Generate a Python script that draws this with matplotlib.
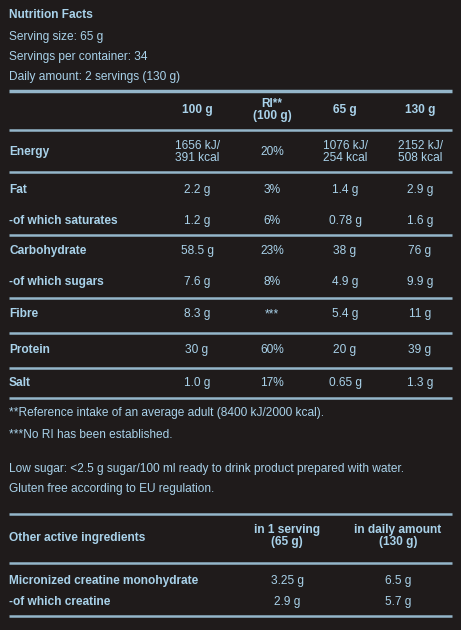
import matplotlib
matplotlib.use("Agg")
import matplotlib.pyplot as plt

BG = "#1f1b1b"
FG = "#a9d2ea"
plt.rcParams['font.family'] = ['Liberation Sans', 'DejaVu Sans']

intro = ["Serving size: 65 g", "Servings per container: 34", "Daily amount: 2 servings (130 g)"]
headers = ["100 g", "RI**\n(100 g)", "65 g", "130 g"]
nutrients = ["Energy", "Fat", "-of which saturates", "Carbohydrate", "-of which sugars", "Fibre", "Protein", "Salt"]
per100 = ["1656 kJ/\n391 kcal", "2.2 g", "1.2 g", "58.5 g", "7.6 g", "8.3 g", "30 g", "1.0 g"]
ri = ["20%", "3%", "6%", "23%", "8%", "***", "60%", "17%"]
per65 = ["1076 kJ/\n254 kcal", "1.4 g", "0.78 g", "38 g", "4.9 g", "5.4 g", "20 g", "0.65 g"]
per130 = ["2152 kJ/\n508 kcal", "2.9 g", "1.6 g", "76 g", "9.9 g", "11 g", "39 g", "1.3 g"]
notes = ["**Reference intake of an average adult (8400 kJ/2000 kcal).", "***No RI has been established."]
claims = ["Low sugar: <2.5 g sugar/100 ml ready to drink product prepared with water.",
          "Gluten free according to EU regulation."]
other_headers = ["Other active ingredients", "in 1 serving\n(65 g)", "in daily amount\n(130 g)"]
other_names = ["Micronized creatine monohydrate", "-of which creatine"]
other_serv = ["3.25 g", "2.9 g"]
other_daily = ["6.5 g", "5.7 g"]

fig = plt.figure(figsize=(4.61, 6.30), dpi=100, facecolor=BG)
ax = fig.add_axes([0, 0, 1, 1])
ax.set_facecolor(BG)
ax.set_xlim(0, 461); ax.set_ylim(630, 0); ax.axis("off")

fs = 8.6
def t(x, y, s, ha="left", bold=False, size=fs):
    ax.text(x, y, s, ha=ha, va="center", color=FG, fontsize=size,
            fontweight="bold" if bold else "normal", linespacing=1.0)

def hl(y, lw=1.8):
    ax.plot([9, 452], [y, y], color=FG, lw=lw, alpha=0.85, solid_capstyle="butt")

t(9, 15, "Nutrition Facts", bold=True)
for i, s in enumerate(intro):
    t(9, 37 + 20 * i, s)

hl(91, 2.5)
cols = [197, 272, 345, 420]
for x, h in zip(cols, headers):
    t(x, 110, h, ha="center", bold=True)
hl(130)

rows_y = [152, 190, 221, 251, 282, 314, 350, 383]
for y, n, a, b, c, d in zip(rows_y, nutrients, per100, ri, per65, per130):
    t(9, y, n, bold=True)
    for x, v in zip(cols, [a, b, c, d]):
        t(x, y, v, ha="center")
for y in [172, 235, 298, 333, 368, 398]:
    hl(y)

for i, s in enumerate(notes):
    t(9, 413 + 22 * i, s)
for i, s in enumerate(claims):
    t(9, 469 + 20 * i, s)

hl(514)
t(9, 538, other_headers[0], bold=True)
t(287, 536, other_headers[1], ha="center", bold=True)
t(398, 536, other_headers[2], ha="center", bold=True)
hl(563)
for i, (n, a, b) in enumerate(zip(other_names, other_serv, other_daily)):
    y = 581 + 21 * i
    t(9, y, n, bold=True)
    t(287, y, a, ha="center")
    t(398, y, b, ha="center")
hl(616)

fig.savefig("out.png", dpi=100, facecolor=BG)
